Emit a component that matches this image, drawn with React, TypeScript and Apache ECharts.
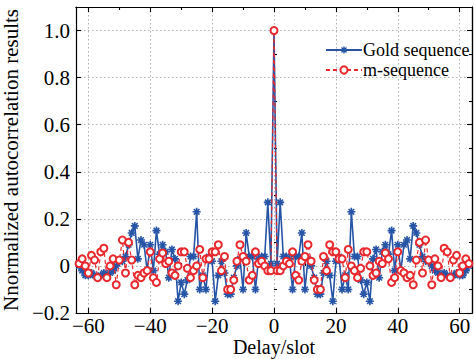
import { useEffect, useRef } from 'react';
import * as echarts from 'echarts';

const delays = [
  -63, -62, -61, -60, -59, -58, -57, -56, -55, -54, -53, -52, -51, -50, -49, -48,
  -47, -46, -45, -44, -43, -42, -41, -40, -39, -38, -37, -36, -35, -34, -33, -32,
  -31, -30, -29, -28, -27, -26, -25, -24, -23, -22, -21, -20, -19, -18, -17, -16,
  -15, -14, -13, -12, -11, -10, -9, -8, -7, -6, -5, -4, -3, -2, -1, 0,
  1, 2, 3, 4, 5, 6, 7, 8, 9, 10, 11, 12, 13, 14, 15, 16,
  17, 18, 19, 20, 21, 22, 23, 24, 25, 26, 27, 28, 29, 30, 31, 32,
  33, 34, 35, 36, 37, 38, 39, 40, 41, 42, 43, 44, 45, 46, 47, 48,
  49, 50, 51, 52, 53, 54, 55, 56, 57, 58, 59, 60, 61, 62, 63,
];

const goldSequence = [
  0.0, -0.02, -0.04, -0.04, -0.03, -0.04, -0.05, -0.04, -0.03, -0.04, -0.03, -0.02, 0.0, 0.02, 0.02, 0.04,
  0.09, 0.14, 0.17, 0.03, 0.11, 0.09, -0.02, 0.09, -0.02, 0.15, 0.05, 0.09, 0.06, -0.05, 0.07, 0.03,
  -0.15, -0.07, -0.12, -0.06, 0.04, 0.04, 0.23, -0.1, -0.04, -0.1, 0.04, 0.02, -0.15, -0.04, 0.02, -0.03,
  -0.12, -0.12, -0.05, 0.0, 0.03, -0.1, 0.14, 0.04, 0.04, -0.1, 0.03, 0.04, 0.04, 0.27, 0.01, 1.0,
  0.01, 0.27, 0.04, 0.04, 0.03, -0.1, 0.04, 0.04, 0.14, -0.1, 0.03, 0.0, -0.05, -0.12, -0.12, -0.03,
  0.02, -0.04, -0.15, 0.02, 0.04, -0.1, -0.04, -0.1, 0.23, 0.04, 0.04, -0.06, -0.12, -0.07, -0.15, 0.03,
  0.07, -0.05, 0.06, 0.09, 0.05, 0.15, -0.02, 0.09, -0.02, 0.09, 0.11, 0.03, 0.17, 0.14, 0.09, 0.04,
  0.02, 0.02, 0.0, -0.02, -0.03, -0.04, -0.03, -0.04, -0.05, -0.04, -0.03, -0.04, -0.04, -0.02, 0.0,
];

const mSequence = [
  0.01, 0.03, 0.0, -0.03, 0.045, 0.025, -0.05, 0.06, 0.075, -0.05, 0.0, 0.03, -0.08, 0.025, 0.11, -0.03,
  0.1, 0.025, -0.08, -0.04, -0.05, -0.03, -0.02, 0.06, -0.05, -0.07, 0.03, 0.055, 0.01, 0.02, -0.03, -0.04,
  0.0, 0.06, 0.06, -0.01, -0.05, -0.02, 0.0, 0.07, -0.05, 0.03, 0.03, 0.06, 0.06, 0.09, -0.02, 0.04,
  -0.1, -0.1, -0.06, 0.02, 0.09, 0.04, 0.02, -0.06, -0.04, 0.06, 0.01, 0.02, 0.0, -0.02, -0.02, 1.0,
  -0.02, -0.02, 0.0, 0.02, 0.01, 0.06, -0.04, -0.06, 0.02, 0.04, 0.09, 0.02, -0.06, -0.1, -0.1, 0.04,
  -0.02, 0.09, 0.06, 0.06, 0.03, 0.03, -0.05, 0.07, 0.0, -0.02, -0.05, -0.01, 0.06, 0.06, 0.0, -0.04,
  -0.03, 0.02, 0.01, 0.055, 0.03, -0.07, -0.05, 0.06, -0.02, -0.03, -0.05, -0.04, -0.08, 0.025, 0.1, -0.03,
  0.11, 0.025, -0.08, 0.03, 0.0, -0.05, 0.075, 0.06, -0.05, 0.025, 0.045, -0.03, 0.0, 0.03, 0.01,
];

const xMajorTicks = [-60, -40, -20, 0, 20, 40, 60];
const xMinorTicks = [-50, -30, -10, 10, 30, 50];
const yMajorTicks = [-0.2, 0, 0.2, 0.4, 0.6, 0.8, 1.0];
const yMinorTicks = [-0.1, 0.1, 0.3, 0.5, 0.7, 0.9];

const FONT = 'Liberation Serif';
const BLUE = '#2654a6';
const RED = '#e8282d';

const STAR =
  'path://M-5,-1L5,-1L5,1L-5,1Z' +
  'M-1,-5L1,-5L1,5L-1,5Z' +
  'M-2.8,-4.2L4.2,2.8L2.8,4.2L-4.2,-2.8Z' +
  'M-4.2,2.8L2.8,-4.2L4.2,-2.8L-2.8,4.2Z';

const xFmt = (v: number) => (v < 0 ? '\u2212' : '') + Math.abs(v);
const yFmt = (v: number) =>
  Math.abs(v) < 1e-9 ? '0' : (v < 0 ? '\u2212' : '') + Math.abs(v).toFixed(1);

export default function App() {
  const ref = useRef<HTMLDivElement>(null);

  useEffect(() => {
    if (!ref.current) return;
    const chart = echarts.init(ref.current, undefined, { renderer: 'svg' });
    const axisLine = { show: true, onZero: false, lineStyle: { color: '#000', width: 1.2 } };
    const tickStyle = { color: '#000', width: 1.1 };
    const gridLine = { show: true, lineStyle: { color: '#b0b0b0', width: 1, type: [1.5, 2.5] } };
    const hidden = { show: false };

    const mkX = (position: string, ticks: number[], len: number, main: boolean) => ({
      type: 'value',
      position,
      min: -64,
      max: 64,
      axisLine: main || position === 'top' ? axisLine : hidden,
      axisTick: { show: true, inside: true, length: len, customValues: ticks, lineStyle: tickStyle },
      axisLabel:
        main && position === 'bottom'
          ? {
              show: true,
              customValues: ticks,
              formatter: xFmt,
              fontFamily: FONT,
              fontSize: 21,
              lineHeight: 20,
              color: '#000',
              margin: 3,
            }
          : { show: false },
      splitLine: main && position === 'bottom' ? gridLine : hidden,
      ...(main && position === 'bottom'
        ? {
            name: 'Delay/slot',
            nameLocation: 'middle',
            nameGap: 25,
            nameMoveOverlap: false,
            nameTextStyle: { fontFamily: FONT, fontSize: 20, lineHeight: 18, color: '#000' },
          }
        : {}),
    });

    const mkY = (position: string, ticks: number[], len: number, main: boolean) => ({
      type: 'value',
      position,
      min: -0.2,
      max: 1.1,
      axisLine: main || position === 'right' ? axisLine : hidden,
      axisTick: { show: true, inside: true, length: len, customValues: ticks, lineStyle: tickStyle },
      axisLabel:
        main && position === 'left'
          ? {
              show: true,
              customValues: ticks,
              formatter: yFmt,
              fontFamily: FONT,
              fontSize: 21,
              color: '#000',
              margin: 6,
            }
          : { show: false },
      splitLine: main && position === 'left' ? gridLine : hidden,
      ...(main && position === 'left'
        ? {
            name: 'Nnormalized autocorrelation results',
            nameLocation: 'middle',
            nameGap: 51,
            nameRotate: 90,
            nameTextStyle: { fontFamily: FONT, fontSize: 21, color: '#000' },
          }
        : {}),
    });

    chart.setOption({
      animation: false,
      backgroundColor: '#fff',
      grid: { left: 76, right: 2, top: 7, bottom: 46, outerBoundsMode: 'none', containLabel: false },
      legend: {
        orient: 'vertical',
        left: 320,
        top: 36,
        itemWidth: 36,
        itemHeight: 9,
        itemGap: 2,
        textStyle: {
          fontFamily: FONT,
          fontSize: 18,
          lineHeight: 17,
          color: '#000',
          padding: [0, 0, 0, -4],
        },
        data: ['Gold sequence', 'm-sequence'],
      },
      xAxis: [
        mkX('bottom', xMajorTicks, 5, true),
        mkX('bottom', xMinorTicks, 3, false),
        mkX('top', xMajorTicks, 5, false),
        mkX('top', xMinorTicks, 3, false),
      ],
      yAxis: [
        mkY('left', yMajorTicks, 5, true),
        mkY('left', yMinorTicks, 3, false),
        mkY('right', yMajorTicks, 5, false),
        mkY('right', yMinorTicks, 3, false),
      ],
      series: [
        {
          type: 'line',
          name: 'Gold sequence',
          xAxisIndex: 0,
          yAxisIndex: 0,
          data: delays.map((d, i) => [d, goldSequence[i]]),
          symbol: STAR,
          symbolSize: 8,
          showAllSymbol: true,
          lineStyle: { color: BLUE, width: 1.6 },
          itemStyle: { color: BLUE },
          z: 2,
        },
        {
          type: 'line',
          name: 'm-sequence',
          xAxisIndex: 0,
          yAxisIndex: 0,
          data: delays.map((d, i) => [d, mSequence[i]]),
          symbol: 'emptyCircle',
          symbolSize: 7,
          showAllSymbol: true,
          lineStyle: { color: RED, width: 1.2, type: [4, 3] },
          itemStyle: { color: RED, borderWidth: 1 },
          z: 3,
        },
      ],
    });
    return () => chart.dispose();
  }, []);

  return (
    <div
      ref={ref}
      style={{ position: 'fixed', left: 0, top: 0, width: 474, height: 359 }}
    />
  );
}
